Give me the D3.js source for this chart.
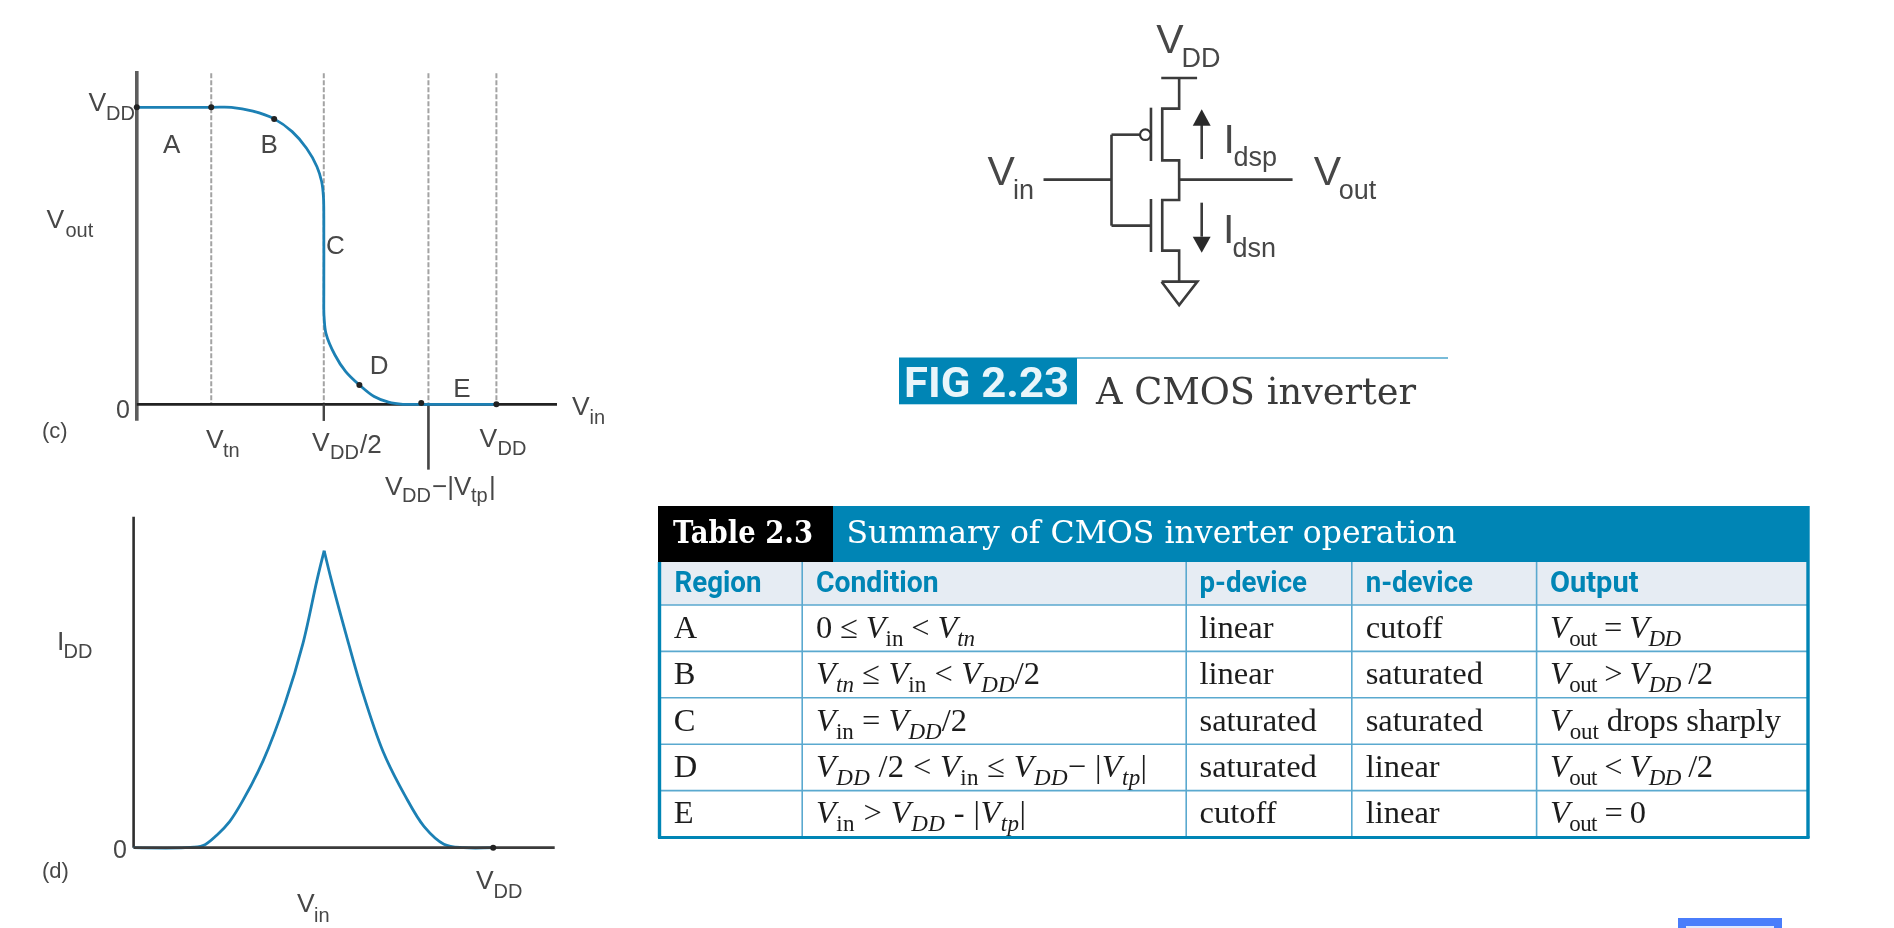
<!DOCTYPE html>
<html><head><meta charset="utf-8">
<script src="https://cdn.jsdelivr.net/npm/d3@7/dist/d3.min.js"></script>
<style>html,body{margin:0;background:#fff;overflow:hidden}svg{display:block}</style></head>
<body><svg id="c" width="1894" height="928"></svg>
<script>
// ---- chart data (Vin and outputs as fractions of VDD)
const vtcVin  = [0,.207,.263,.323,.382,.432,.472,.501,.514,.519,.520,.520,.520,.521,.526,.551,.581,.619,.660,.700,.740,.791,1];
const vtcVout = [1,1,1,.987,.961,.918,.862,.800,.750,.700,.650,.350,.320,.290,.239,.166,.110,.065,.026,.007,0,0,0];
const iddVinUp   = [0,.143,.193,.232,.267,.302,.361,.421,.471,.510,.530];
const iddValUp   = [0,0,.007,.043,.088,.155,.295,.486,.688,.901,1];
const iddVinDown = [.530,.550,.590,.635,.694,.754,.808,.863,.918,1];
const iddValDown = [1,.901,.722,.531,.323,.177,.071,.012,0,0];
const guideVin = [.207,.520,.811,1];
const dotVin  = [0,.207,.382,.619,.791,1];
const dotVout = [1,1,.961,.065,.004,0];
const regionNames = ["A","B","C","D","E"];
const regionVin   = [.073,.344,.526,.648,.880];
const regionVout  = [.845,.845,.507,.102,.025];
const tableTitle = ["Table 2.3","Summary of CMOS inverter operation"];
const figTitle = ["FIG 2.23","A CMOS inverter"];
const colHeads = ["Region","Condition","p-device","n-device","Output"];
const pDevice = ["linear","linear","saturated","saturated","cutoff"];
const nDevice = ["cutoff","saturated","saturated","linear","linear"];
// r = roman, i = italic, s = roman subscript, j = italic subscript
const conditions = [
 [["0 ≤ ","r"],["V","i"],["in","s"],[" < ","r"],["V","i"],["tn","j"]],
 [["V","i"],["tn","j"],[" ≤ ","r"],["V","i"],["in","s"],[" < ","r"],["V","i"],["DD","j"],["/2","r"]],
 [["V","i"],["in","s"],[" = ","r"],["V","i"],["DD","j"],["/2","r"]],
 [["V","i"],["DD","j"],[" /2 < ","r"],["V","i"],["in","s"],[" ≤ ","r"],["V","i"],["DD","j"],["− |","r"],["V","i"],["tp","j"],["|","r"]],
 [["V","i"],["in","s"],[" > ","r"],["V","i"],["DD","j"],[" - |","r"],["V","i"],["tp","j"],["|","r"]]
];
const outputs = [
 [["V","i"],["out","s"],[" = ","r"],["V","i"],["DD","j"]],
 [["V","i"],["out","s"],[" > ","r"],["V","i"],["DD","j"],[" /2","r"]],
 [["V","i"],["out","s"],[" drops sharply","r"]],
 [["V","i"],["out","s"],[" < ","r"],["V","i"],["DD","j"],[" /2","r"]],
 [["V","i"],["out","s"],[" = 0","r"]]
];

// ---- layout
const svg = d3.select("#c");
const SANS = "'Liberation Sans',Arial,sans-serif", SERIF = "'Liberation Serif',serif", SLAB="'DejaVu Serif',serif", RB = "Roboto,sans-serif";
const INK = "#474747", BLUE = "#0085b5", CURVE = "#1b80b4";
const defs = svg.append("defs");
defs.append("filter").attr("id","soft").attr("x","-5%").attr("y","-5%").attr("width","110%").attr("height","110%")
  .append("feGaussianBlur").attr("stdDeviation",0.7);
defs.append("filter").attr("id","softer").attr("x","-5%").attr("y","-5%").attr("width","110%").attr("height","110%")
  .append("feGaussianBlur").attr("stdDeviation",0.4);

const gCharts = svg.append("g").attr("filter","url(#soft)");
const gCircuit = svg.append("g").attr("filter","url(#soft)");
const gTable = svg.append("g").attr("filter","url(#softer)");

function put(g,str,x,y,size,o={}){
  const t=g.append("text").attr("x",x).attr("y",y).attr("font-size",size)
    .attr("font-family",o.font||SANS).attr("fill",o.fill||INK).text(str);
  if(o.weight)t.attr("font-weight",o.weight);
  if(o.width)t.attr("textLength",o.width).attr("lengthAdjust","spacingAndGlyphs");
  return t;
}
function sym(g,x,y,main,sx,sy,sub,ms=26.5,ss=20){ put(g,main,x,y,ms); put(g,sub,sx,sy,ss); }

// ---- (c) transfer curve
const x1 = d3.scaleLinear().domain([0,1]).range([136.8,496.4]);
const y1 = d3.scaleLinear().domain([0,1]).range([404.3,107.3]);
const c1 = gCharts.append("g");
guideVin.forEach(v=>c1.append("line").attr("x1",x1(v)).attr("x2",x1(v)).attr("y1",y1(1.115)).attr("y2",y1(0))
  .attr("stroke","#a3a3a3").attr("stroke-width",2).attr("stroke-dasharray","5 2"));
c1.append("line").attr("x1",x1(0)).attr("x2",x1(0)).attr("y1",y1(1.122)).attr("y2",y1(-.055)).attr("stroke","#5d5d5d").attr("stroke-width",3.6);
c1.append("line").attr("x1",x1(0)).attr("x2",x1(1.1685)).attr("y1",y1(0)).attr("y2",y1(0)).attr("stroke","#222").attr("stroke-width",2.8);
c1.append("line").attr("x1",x1(.52)).attr("x2",x1(.52)).attr("y1",y1(0)).attr("y2",y1(-.056)).attr("stroke","#444").attr("stroke-width",2.4);
c1.append("line").attr("x1",x1(.811)).attr("x2",x1(.811)).attr("y1",y1(0)).attr("y2",y1(-.22)).attr("stroke","#444").attr("stroke-width",2.6);
c1.append("path").datum(d3.range(vtcVin.length))
  .attr("d",d3.line().x(i=>x1(vtcVin[i])).y(i=>y1(vtcVout[i])).curve(d3.curveCatmullRom.alpha(.5)))
  .attr("fill","none").attr("stroke",CURVE).attr("stroke-width",2.8);
dotVin.forEach((v,i)=>c1.append("circle").attr("cx",x1(v)).attr("cy",y1(dotVout[i])).attr("r",3).attr("fill","#222"));
regionNames.forEach((n,i)=>put(c1,n,x1(regionVin[i]),y1(regionVout[i]),26));
sym(c1,88.5,111,"V",106,120,"DD");
sym(c1,46.5,228,"V",65.5,237,"out");
put(c1,"0",116,418,25);
put(c1,"(c)",42,438,22);
sym(c1,206,448,"V",223,457,"tn");
sym(c1,312,451,"V",330,459,"DD"); put(c1,"/2",360,453,26);
sym(c1,479.5,447,"V",497.5,455,"DD");
sym(c1,385,495,"V",402,502,"DD"); put(c1,"−|V",432,495,26); put(c1,"tp",471,502,20); put(c1,"|",489,495,26);
sym(c1,572,415,"V",589.5,424,"in");

// ---- (d) supply current
const x2 = d3.scaleLinear().domain([0,1]).range([133.6,493.2]);
const y2 = d3.scaleLinear().domain([0,1]).range([847.7,550.7]);
const c2 = gCharts.append("g");
c2.append("line").attr("x1",x2(0)).attr("x2",x2(0)).attr("y1",y2(1.1145)).attr("y2",y2(0)).attr("stroke","#2e2e2e").attr("stroke-width",2.6);
[[iddVinUp,iddValUp],[iddVinDown,iddValDown]].forEach(([xs,ys])=>
  c2.append("path").datum(d3.range(xs.length))
    .attr("d",d3.line().x(i=>x2(xs[i])).y(i=>y2(ys[i])).curve(d3.curveCatmullRom.alpha(.5)))
    .attr("fill","none").attr("stroke",CURVE).attr("stroke-width",2.8));
c2.append("line").attr("x1",x2(0)).attr("x2",x2(1.171)).attr("y1",y2(0)).attr("y2",y2(0)).attr("stroke","#3a3a3a").attr("stroke-width",2.8);
c2.append("circle").attr("cx",x2(1)).attr("cy",y2(0)).attr("r",3).attr("fill","#222");
sym(c2,57,650,"I",63.5,658,"DD");
put(c2,"0",113,858,25);
put(c2,"(d)",42,878,22);
sym(c2,476,889,"V",493.5,898,"DD");
sym(c2,297,912,"V",314,922,"in");

// ---- circuit
const sx = d3.scaleLinear().domain([0,1568]).range([950,1470]);
const sy = d3.scaleLinear().domain([0,1230]).range([10,420]);
const wires = [
 [[637,204],[745,204]],
 [[691,204],[691,296],[640,296],[640,451],[691,451],[691,570],[640,570],[640,722],[691,722],[691,815]],
 [[606,293],[606,453]],[[606,567],[606,726]],
 [[282,509],[487,509]],[[487,374],[487,647]],[[487,374],[572,374]],[[487,647],[606,647]],
 [[691,509],[1033,509]],
 [[638,815],[746,815],[691,885],[638,815]],
 [[759,447],[759,345]],[[759,578],[759,680]]
];
const heads = [[[759,298],[732,347],[786,347]],[[759,728],[732,680],[786,680]]];
const wl = d3.line().x(p=>sx(p[0])).y(p=>sy(p[1]));
wires.forEach(w=>gCircuit.append("path").attr("d",wl(w)).attr("fill","none").attr("stroke","#3a3a3a").attr("stroke-width",2.6).attr("stroke-linejoin","miter"));
heads.forEach(h=>gCircuit.append("path").attr("d",wl(h)+"Z").attr("fill","#2b2b2b"));
gCircuit.append("circle").attr("cx",sx(589)).attr("cy",sy(374)).attr("r",5.3).attr("fill","#fff").attr("stroke","#333").attr("stroke-width",2.2);
const BIG=41, SUB=27;
sym(gCircuit,sx(622),sy(130),"V",sx(698),sy(172),"DD",BIG,SUB);
sym(gCircuit,sx(113),sy(525),"V",sx(190),sy(567),"in",BIG,SUB);
sym(gCircuit,sx(1097),sy(525),"V",sx(1172),sy(567),"out",BIG,SUB);
sym(gCircuit,sx(825),sy(428),"I",sx(855),sy(468),"dsp",BIG,SUB);
sym(gCircuit,sx(823),sy(700),"I",sx(852),sy(740),"dsn",BIG,SUB);

// ---- figure caption
const gFig = svg.append("g").attr("filter","url(#softer)");
gFig.append("rect").attr("x",899).attr("y",357.5).attr("width",178).attr("height",46.8).attr("fill",BLUE);
gFig.append("line").attr("x1",1077).attr("x2",1448).attr("y1",358).attr("y2",358).attr("stroke","#79bcd9").attr("stroke-width",2);
put(gFig,figTitle[0],904,397,43,{font:RB,weight:700,fill:"#e9f5fa",width:165});
put(gFig,figTitle[1],1096,404,38,{font:SLAB,fill:"#3a3a3a",width:320}).attr("font-weight",300);

// ---- table
const colX = [658,802.2,1186.2,1351.8,1536.6,1808];
const rowY = d3.range(6).map(i=>d3.scaleLinear().domain([0,5]).range([605,837])(i));
const T = gTable;
T.append("rect").attr("x",660).attr("y",506).attr("width",1148).attr("height",56).attr("fill",BLUE);
T.append("rect").attr("x",658).attr("y",506).attr("width",175).attr("height",56).attr("fill","#000");
T.append("rect").attr("x",660).attr("y",562).attr("width",1147).attr("height",43).attr("fill","#e6ecf3");
put(T,tableTitle[0],673,543,31,{font:SLAB,weight:700,fill:"#fff",width:140});
put(T,tableTitle[1],846.5,543,31,{font:SLAB,fill:"#fff",width:610});
rowY.forEach((y,i)=>{ if(i<5) T.append("line").attr("x1",660).attr("x2",1807).attr("y1",y).attr("y2",y).attr("stroke","#5aa9cf").attr("stroke-width",1.6); });
colX.slice(1,5).forEach(x=>T.append("line").attr("x1",x).attr("x2",x).attr("y1",562).attr("y2",837).attr("stroke","#5aa9cf").attr("stroke-width",1.6));
T.append("line").attr("x1",658).attr("x2",1809.5).attr("y1",837.5).attr("y2",837.5).attr("stroke",BLUE).attr("stroke-width",3);
T.append("line").attr("x1",659.5).attr("x2",659.5).attr("y1",562).attr("y2",838).attr("stroke",BLUE).attr("stroke-width",3.4);
T.append("line").attr("x1",1808).attr("x2",1808).attr("y1",506).attr("y2",838).attr("stroke",BLUE).attr("stroke-width",3.4);
const headX=[674.5,816,1199.5,1365.7,1550], headW=[87,122.7,107.5,107.3,88.5];
colHeads.forEach((h,i)=>put(T,h,headX[i],591.7,30,{font:RB,weight:700,fill:BLUE,width:headW[i]}));
const base = i=>rowY[i]+32.7;
const SIZE=32.5, SS=23;
function math(segs,x,y,width){
  const t=T.append("text").attr("x",x).attr("y",y).attr("font-family",SERIF).attr("font-size",SIZE).attr("fill","#1c1c1c").attr("xml:space","preserve").style("white-space","pre");
  let shift=0;
  segs.forEach(([s,k])=>{
    const low=(k==="s"||k==="j"), tgt=low?8:0;
    t.append("tspan").attr("dy",tgt-shift).attr("font-size",low?SS:SIZE).attr("font-style",(k==="i"||k==="j")?"italic":"normal").text(s);
    shift=tgt;
  });
  if(width) t.attr("textLength",width).attr("lengthAdjust","spacing");
}
const condW=[159,224,151,331,210], outW=[131,163,231,163,96];
regionNames.forEach((n,i)=>{
  put(T,n,673.7,base(i),SIZE,{font:SERIF,fill:"#1c1c1c"});
  math(conditions[i],816,base(i),condW[i]);
  put(T,pDevice[i],1199.5,base(i),SIZE,{font:SERIF,fill:"#1c1c1c"});
  put(T,nDevice[i],1365.7,base(i),SIZE,{font:SERIF,fill:"#1c1c1c"});
  math(outputs[i],1550,base(i),outW[i]);
});

// ---- cropped UI fragment at the bottom edge
svg.append("rect").attr("x",1678).attr("y",918).attr("width",104).attr("height",10).attr("fill","#4a7dfb");
svg.append("rect").attr("x",1686).attr("y",926).attr("width",88).attr("height",2).attr("fill","#dfe8ff");
</script></body></html>
